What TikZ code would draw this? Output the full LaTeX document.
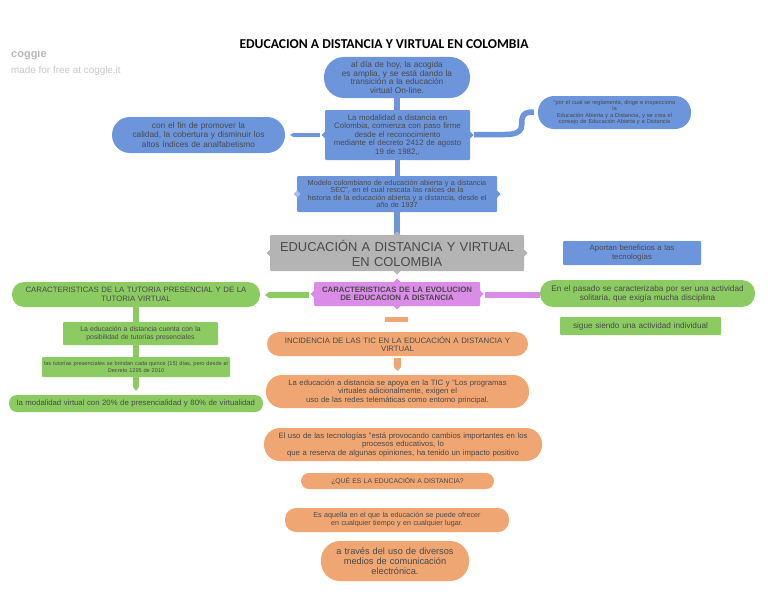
\documentclass[tikz,border=0pt]{standalone}
\usepackage{fontspec}
\usetikzlibrary{arrows.meta}
\setmainfont{Liberation Sans}
\newfontfamily\titlefont{Carlito}
\definecolor{cblue}{HTML}{6C95DC}
\definecolor{cgreen}{HTML}{8CCB62}
\definecolor{corange}{HTML}{EFA672}
\definecolor{cpink}{HTML}{DA8CE8}
\definecolor{cgray}{HTML}{B4B4B4}
\definecolor{ctext}{HTML}{4A4A4A}
\newcommand{\fsz}[1]{\pgfmathsetmacro{\blsk}{1.1*#1}\fontsize{#1}{\blsk}\selectfont}
\tikzset{
  box/.style={inner sep=0pt,align=center,text=ctext,font=\fsz{#1}},
  rectb/.style={rounded corners=1pt},
  link/.style={line width=5.5pt,line cap=butt},
  taper/.style={-{Triangle[length=4pt,width=#1]}},
}
\newcommand{\bx}[8]{% name, style, fill, x0, y0, x1, y1, text
  \pgfmathsetmacro{\bxw}{#6-#4}\pgfmathsetmacro{\bxh}{#7-#5}
  \node[#2,fill=#3,minimum width=\bxw pt,minimum height=\bxh pt,text width=\bxw pt-2pt] (#1) at ({(#4+#6)/2},{(#5+#7)/2}) {#8};}
\newcommand{\nub}[3]{\fill[#3] (#1,#2) ++(-3.5,0) -- ++(3.5,-3.5) -- ++(3.5,3.5) -- ++(-3.5,3.5) -- cycle;}
\begin{document}
\begin{tikzpicture}[x=1pt,y=-1pt]
\useasboundingbox (0,0) rectangle (768,594);
\node[font=\titlefont\bfseries\fontsize{13.6}{16}\selectfont,text=black] (title) at (384,44) {EDUCACION A DISTANCIA Y VIRTUAL EN COLOMBIA};
\node[anchor=west,font=\fontsize{9.9}{12}\selectfont,text=black!22,inner sep=0pt] (made) at (11,71) {made for free at coggle.it};
\begin{scope}
\clip (0,52) rectangle (100,64);
\node[anchor=west,font=\bfseries\fontsize{11}{13}\selectfont,text=black!28,inner sep=0pt] (logo) at (11,55) {coggle};
\end{scope}
% nodes
\bx{top}{box=8.3,rounded corners=20pt,font=\fontsize{8.3}{8.6}\selectfont}{cblue}{324}{57}{470}{98}{al día de hoy, la acogida\\ es amplia, y se está dando la\\ transición a la educación\\ virtual On-line.}
\bx{mod}{box=7.85,rectb}{cblue}{325}{110}{470}{160}{La modalidad a distancia en\\ Colombia, comienza con paso firme\\ desde el reconocimiento\\ mediante el decreto 2412 de agosto\\ 19 de 1982,.}
\bx{lft}{box=8.3,rounded corners=18pt}{cblue}{112}{117}{285}{153}{con el fin de promover la\\ calidad, la cobertura y disminuir los\\ altos índices de analfabetismo}
\bx{rgt}{box=5.7,rounded corners=16pt}{cblue}{538}{96}{691}{129}{"por el cual se reglamenta, dirige e inspecciona\\ la\\ Educación Abierta y a Distancia, y se crea el\\ consejo de Educación Abierta y a Distancia}
\bx{sec}{box=7.3,rectb,font=\fontsize{7.3}{7.5}\selectfont}{cblue}{297}{176}{497}{212}{Modelo colombiano de educación abierta y a distancia\\ SEC", en el cual rescata las raíces de la\\ historia de la educación abierta y a distancia, desde el\\ año de 1937}
\bx{main}{box=12.9,rectb,font=\fontsize{12.9}{15}\selectfont}{cgray}{270}{235}{524}{271}{EDUCACIÓN A DISTANCIA Y VIRTUAL\\ EN COLOMBIA}
\bx{apo}{box=7.8,rectb}{cblue}{563}{241}{701}{265}{Aportan beneficios a las\\ tecnologías}
\bx{pink}{box=7.8,rectb}{cpink}{314}{282}{480}{306}{\textbf{CARACTERISTICAS DE LA EVOLUCION}\\ \textbf{DE EDUCACION A DISTANCIA}}
\bx{pas}{box=8.2,rounded corners=13pt}{cgreen}{540}{280}{755}{307}{En el pasado se caracterizaba por ser una actividad\\ solitaria, que exigía mucha disciplina}
\bx{sig}{box=8.2,rectb}{cgreen}{560}{317}{721}{335}{sigue siendo una actividad individual}
\bx{tut}{box=7.8,rounded corners=12pt}{cgreen}{12}{282}{260}{307}{CARACTERISTICAS DE LA TUTORIA PRESENCIAL Y DE LA\\ TUTORIA VIRTUAL}
\bx{edu}{box=6.85,rectb}{cgreen}{63}{322}{218}{345}{La educación a distancia cuenta con la\\ posibilidad de tutorías presenciales}
\bx{las}{box=5.6,rectb}{cgreen}{42}{357}{230}{377}{las tutorías presenciales se brindan cada quince (15) días, pero desde el\\ Decreto 1295 de 2010}
\bx{vir}{box=7.75,rounded corners=8pt}{cgreen}{9}{395}{263}{412}{la modalidad virtual con 20\% de presencialidad y 80\% de virtualidad}
\bx{inc}{box=7.8,rounded corners=12pt}{corange}{267}{332}{528}{356}{INCIDENCIA DE LAS TIC EN LA EDUCACIÓN A DISTANCIA Y\\ VIRTUAL}
\bx{apy}{box=7.7,rounded corners=16pt}{corange}{266}{375}{529}{408}{La educación a distancia se apoya en la TIC y "Los programas\\ virtuales adicionalmente, exigen el\\ uso de las redes telemáticas como entorno principal.}
\bx{uso}{box=7.75,rounded corners=16pt}{corange}{264}{428}{542}{461}{El uso de las tecnologías "está provocando cambios importantes en los\\ procesos educativos, lo\\ que a reserva de algunas opiniones, ha tenido un impacto positivo}
\bx{que}{box=6.8,rounded corners=8pt}{corange}{301}{473}{494}{489}{¿QUÉ ES LA EDUCACIÓN A DISTANCIA?}
\bx{aqu}{box=7.2,rounded corners=11pt}{corange}{285}{508}{509}{532}{Es aquella en el que la educación se puede ofrecer\\ en cualquier tiempo y en cualquier lugar.}
\bx{tra}{box=9.2,rounded corners=19pt}{corange}{321}{541}{469}{581}{a través del uso de diversos\\ medios de comunicación\\ electrónica.}
% connectors
\coordinate (rgtin) at (534,112);
\coordinate (lftin) at (290,135);
\coordinate (tutin) at (265,295);
\coordinate (virin) at (136,391);
\coordinate (apyin) at (397.5,371);
\draw[link,cblue] (top.south) -- (top.south |- mod.north);
\draw[link,cblue] (mod.south) -- (mod.south |- sec.north);
\draw[link,cblue] (sec.south) -- (sec.south |- main.north);
\draw[link,cblue,line width=4pt,taper=4.5pt] (mod.west) ++(-5,0) -- (lftin);
\draw[link,cblue] (mod.east) ++(4,-0.5) -- (505,134.5) .. controls (526,134.5) and (521,124) .. (522,119) .. controls (523,113) and (527,112) .. (rgtin);
\draw[link,cgreen,taper=5.5pt] (309,295) -- (tutin);
\draw[link,cpink] (485,295) -- (pas.west |- tutin);
\draw[link,cgreen] (tut.south) -- (tut.south |- edu.north);
\draw[link,cgreen] (edu.south -| tut.south) -- (tut.south |- las.north);
\draw[link,cgreen,taper=5.5pt] (las.south -| tut.south) -- (virin);
\draw[link,corange,taper=7pt,line width=7pt] (inc.south) ++(0,2) -- (apyin);
\fill[corange] (385,317) rectangle (408,322);
% side nubs
\nub{397}{212}{cblue}\nub{297}{194}{cblue!60}\nub{497}{194}{cblue}
\nub{325}{135}{cblue}\nub{470}{135}{cblue}
\nub{397}{235}{cgray}\nub{397}{271}{cgray}\nub{270}{253}{cgray}\nub{524}{253}{cgray}
\nub{314}{294}{cpink}\nub{480}{294}{cpink}\nub{397}{282}{cpink}\nub{397}{306}{cpink}
\end{tikzpicture}
\end{document}
